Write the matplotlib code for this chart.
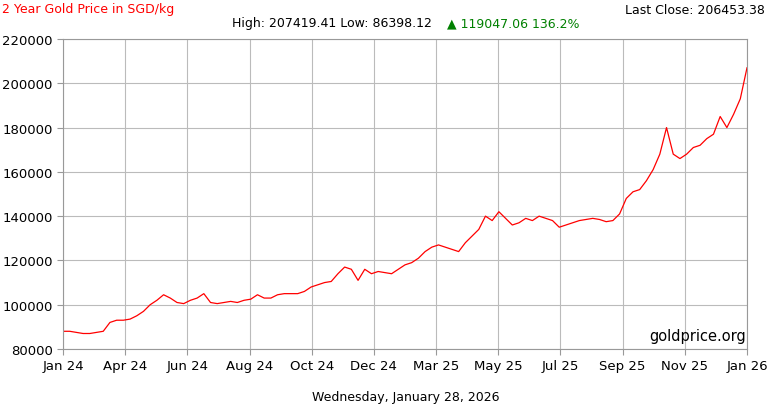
import matplotlib
matplotlib.use("Agg")
import matplotlib.pyplot as plt
import numpy as np

tick_labels = ["Jan 24","Apr 24","Jun 24","Aug 24","Oct 24","Dec 24","Mar 25","May 25","Jul 25","Sep 25","Nov 25","Jan 26"]
prices = [88000, 88000, 87500, 87000, 87000, 87500, 88000, 92000, 93000, 93000, 93500, 95000, 97000,
          100000, 102000, 104500, 103000, 101000, 100500, 102000, 103000, 105000, 101000,
          100500, 101000, 101500, 101000, 102000, 102500, 104500, 103000, 103000,
          104500, 105000, 105000, 105000, 106000, 108000, 109000, 110000, 110500,
          114000, 117000, 116000, 111000, 116000, 114000, 115000, 114500,
          114000, 116000, 118000, 119000, 121000, 124000, 126000, 127000,
          126000, 125000, 124000, 128000, 131000, 134000, 140000, 138000, 142000,
          139000, 136000, 137000, 139000, 138000, 140000, 139000, 138000,
          135000, 136000, 137000, 138000, 138500, 139000, 138500, 137500, 138000,
          141000, 148000, 151000, 152000, 156000, 161000, 168000, 180000,
          168000, 166000, 168000, 171000, 172000, 175000, 177000, 185000,
          180000, 186000, 193000, 207000]

fig = plt.figure(figsize=(7.7, 4.1), dpi=100)
ax = fig.add_axes([63/770, 60/410, 684/770, 310/410])
x = np.linspace(0, 1, len(prices))
ax.plot(x, prices, color="red", lw=0.9)
ax.set_xlim(0, 1)
ax.set_ylim(80000, 220000)
ax.set_yticks(range(80000, 220001, 20000))
ax.set_xticks(np.linspace(0, 1, len(tick_labels)))
ax.set_xticklabels(tick_labels)
ax.grid(True, color="#bbbbbb", lw=0.8)
for s in ax.spines.values():
    s.set_color("#999999")
ax.tick_params(labelsize=9.5, length=4, colors="#999999", labelcolor="black")
ax.text(0.998, 0.02, "goldprice.org", transform=ax.transAxes, ha="right", va="bottom", fontsize=10.5)

fig.text(2/770, 1-9/410, "2 Year Gold Price in SGD/kg", color="red", fontsize=9, va="center")
fig.text(765/770, 1-11/410, "Last Close: 206453.38", fontsize=9, ha="right", va="center")
fig.text(232/770, 1-24/410, "High: 207419.41 Low: 86398.12", fontsize=9, va="center")
fig.text(447/770, 1-24/410, "▲ 119047.06 136.2%", fontsize=9, va="center", color="green")
fig.text(406/770, 1-398/410, "Wednesday, January 28, 2026", fontsize=9, ha="center", va="center")
fig.savefig("out.png", dpi=100)
